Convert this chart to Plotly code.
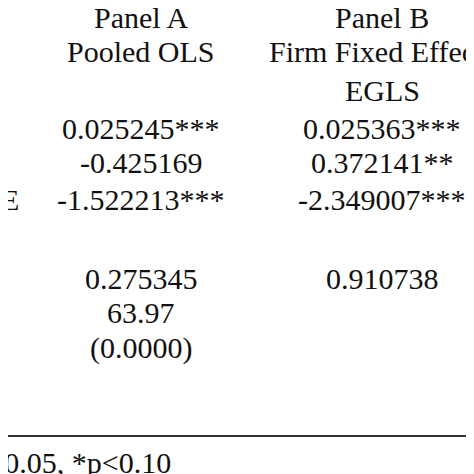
import plotly.graph_objects as go

# Table content, read row by row (y is pixel row centre from the top)
row_y = [18, 52, 90, 128, 162, 200, 238, 278, 312, 348]
row_labels = ["", "", "", "", "", "E", "", "", "", ""]
panel_a = ["Panel A", "Pooled OLS", "", "0.025245***", "-0.425169", "-1.522213***",
           "", "0.275345", "63.97", "(0.0000)"]
panel_b = ["Panel B", "Firm Fixed Effects", "EGLS", "0.025363***", "0.372141**",
           "-2.349007***", "", "0.910738", "", ""]
footnote = "***p<0.01, **p<0.05, *p<0.10"

W = H = 474
OFF = 8  # page offset seen in the render
FONT = dict(family="Liberation Serif, Times New Roman, serif", size=30, color="#111")


def px(x):
    return (x - OFF) / W


def py(y):
    return 1 - (y - OFF) / H


fig = go.Figure()
ann = []
for y, lab, a, b in zip(row_y, row_labels, panel_a, panel_b):
    if lab:
        ann.append(dict(x=px(21), y=py(y), text=lab, xanchor="right"))
    if a:
        ann.append(dict(x=px(141), y=py(y), text=a, xanchor="center"))
    if b:
        ann.append(dict(x=px(382), y=py(y), text=b, xanchor="center"))
ann.append(dict(x=px(173), y=py(462), text=footnote, xanchor="right"))
for a in ann:
    a.update(xref="paper", yref="paper", yanchor="middle", showarrow=False, font=FONT)

fig.update_layout(
    width=W, height=H,
    margin=dict(l=0, r=0, t=0, b=0),
    paper_bgcolor="white", plot_bgcolor="white",
    xaxis=dict(visible=False, range=[0, 1]),
    yaxis=dict(visible=False, range=[0, 1]),
    annotations=ann,
    shapes=[dict(type="line", xref="paper", yref="paper", x0=-0.05, x1=1.05,
                 y0=py(436), y1=py(436), line=dict(color="#333", width=2))],
    showlegend=False,
)
fig.write_html("out.html")
